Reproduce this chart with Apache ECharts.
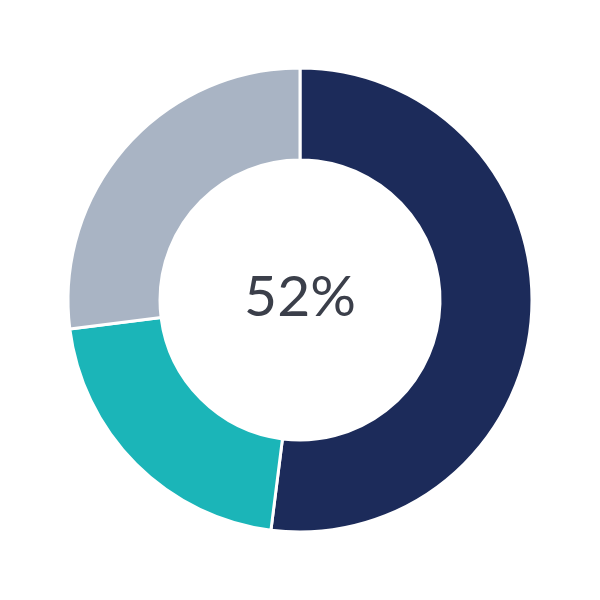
<!DOCTYPE html>
<html>
<head>
<meta charset="utf-8">
<script src="https://cdn.jsdelivr.net/npm/echarts@6/dist/echarts.min.js"></script>
<style>
html, body { margin: 0; padding: 0; background: #fff; }
#chart { width: 600px; height: 600px; }
</style>
</head>
<body>
<div id="chart"></div>
<script>
// 数据
var categories = ['A', 'B', 'C'];
var values = [52, 21, 27];
var colors = ['#1c2b5a', '#1bb5b8', '#a9b4c4'];
var centerLabel = '52%';

var chart = echarts.init(document.getElementById('chart'));

var option = {
    animation: false,
    title: {
        text: centerLabel,
        left: 'center',
        top: 264,
        textStyle: {
            fontFamily: 'Lato',
            fontWeight: 400,
            fontSize: 57,
            color: '#3b3f4a'
        }
    },
    series: [{
        type: 'pie',
        center: ['50%', '50%'],
        radius: [140, 232],
        startAngle: 90,
        clockwise: true,
        label: { show: false },
        labelLine: { show: false },
        itemStyle: {
            borderColor: '#fff',
            borderWidth: 3
        },
        data: categories.map(function(name, i) {
            return { name: name, value: values[i], itemStyle: { color: colors[i] } };
        })
    }]
};

chart.setOption(option);
</script>
</body>
</html>
